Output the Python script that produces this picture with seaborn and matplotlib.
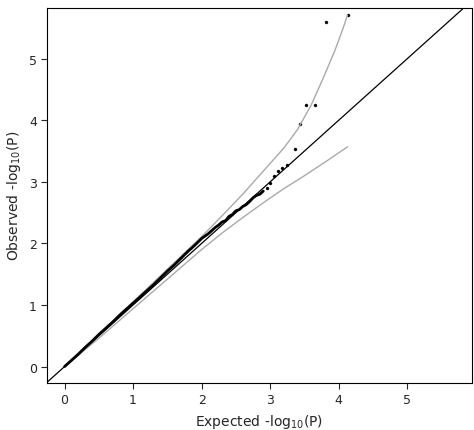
import matplotlib
matplotlib.use("Agg")
import matplotlib.pyplot as plt
import seaborn as sns

# bulk of points (expected, observed)
exp_bulk = [0.0,0.05,0.1,0.2,0.3,0.4,0.5,0.6,0.7,0.8,0.9,1.0,1.1,1.2,1.3,1.4,1.5,1.6,1.7,1.8,1.9,2.0,2.05,2.1,2.15,2.2,2.25,2.3,2.35,2.4,2.45,2.5,2.55,2.6,2.65,2.7,2.75,2.8,2.85,2.9]
obs_bulk = [0.0,0.05,0.1,0.2,0.31,0.41,0.52,0.62,0.72,0.83,0.93,1.03,1.13,1.23,1.33,1.44,1.55,1.65,1.76,1.87,1.97,2.08,2.12,2.16,2.21,2.26,2.3,2.35,2.37,2.44,2.47,2.53,2.55,2.6,2.63,2.68,2.74,2.78,2.8,2.85]
exp_tail = [2.95,3.0,3.06,3.12,3.18,3.24,3.36,3.43,3.53,3.65,3.82,4.13]
obs_tail = [2.9,2.98,3.1,3.18,3.23,3.28,3.54,3.94,4.25,4.25,5.6,5.71]
up_x = [0.0,0.5,1.0,1.5,2.0,2.3,2.6,2.8,3.0,3.2,3.4,3.6,3.8,3.95,4.05,4.13]
up_y = [0.0,0.53,1.05,1.58,2.11,2.45,2.8,3.05,3.3,3.55,3.85,4.25,4.75,5.15,5.45,5.71]
lo_x = [0.0,0.5,1.0,1.5,2.0,2.3,2.6,2.9,3.2,3.5,3.8,4.13]
lo_y = [0.0,0.46,0.94,1.42,1.9,2.17,2.42,2.66,2.89,3.1,3.32,3.57]

sns.set_style("white")
fig, ax = plt.subplots(figsize=(4.74, 4.31), dpi=100)
fig.subplots_adjust(left=0.1, right=0.995, bottom=0.11, top=0.98)
sns.lineplot(x=up_x, y=up_y, ax=ax, color="#aaaaaa", lw=1)
sns.lineplot(x=lo_x, y=lo_y, ax=ax, color="#aaaaaa", lw=1)
ax.plot([-0.3, 6], [-0.3, 6], color="black", lw=0.9)
sns.lineplot(x=exp_bulk, y=obs_bulk, ax=ax, color="black", lw=2)
sns.scatterplot(x=exp_tail, y=obs_tail, ax=ax, color="black", s=5, edgecolor=None)
ax.set_xlim(-0.25, 5.94)
ax.set_ylim(-0.26, 5.83)
ax.set_xticks(range(6))
ax.set_yticks(range(6))
ax.set_xlabel("Expected -log$_{10}$(P)", fontsize=10)
ax.set_ylabel("Observed -log$_{10}$(P)", fontsize=10)
ax.tick_params(labelsize=9, length=4, bottom=True, left=True)
for s in ax.spines.values():
    s.set_color("black"); s.set_linewidth(0.8)
fig.savefig("out.png", dpi=100)
